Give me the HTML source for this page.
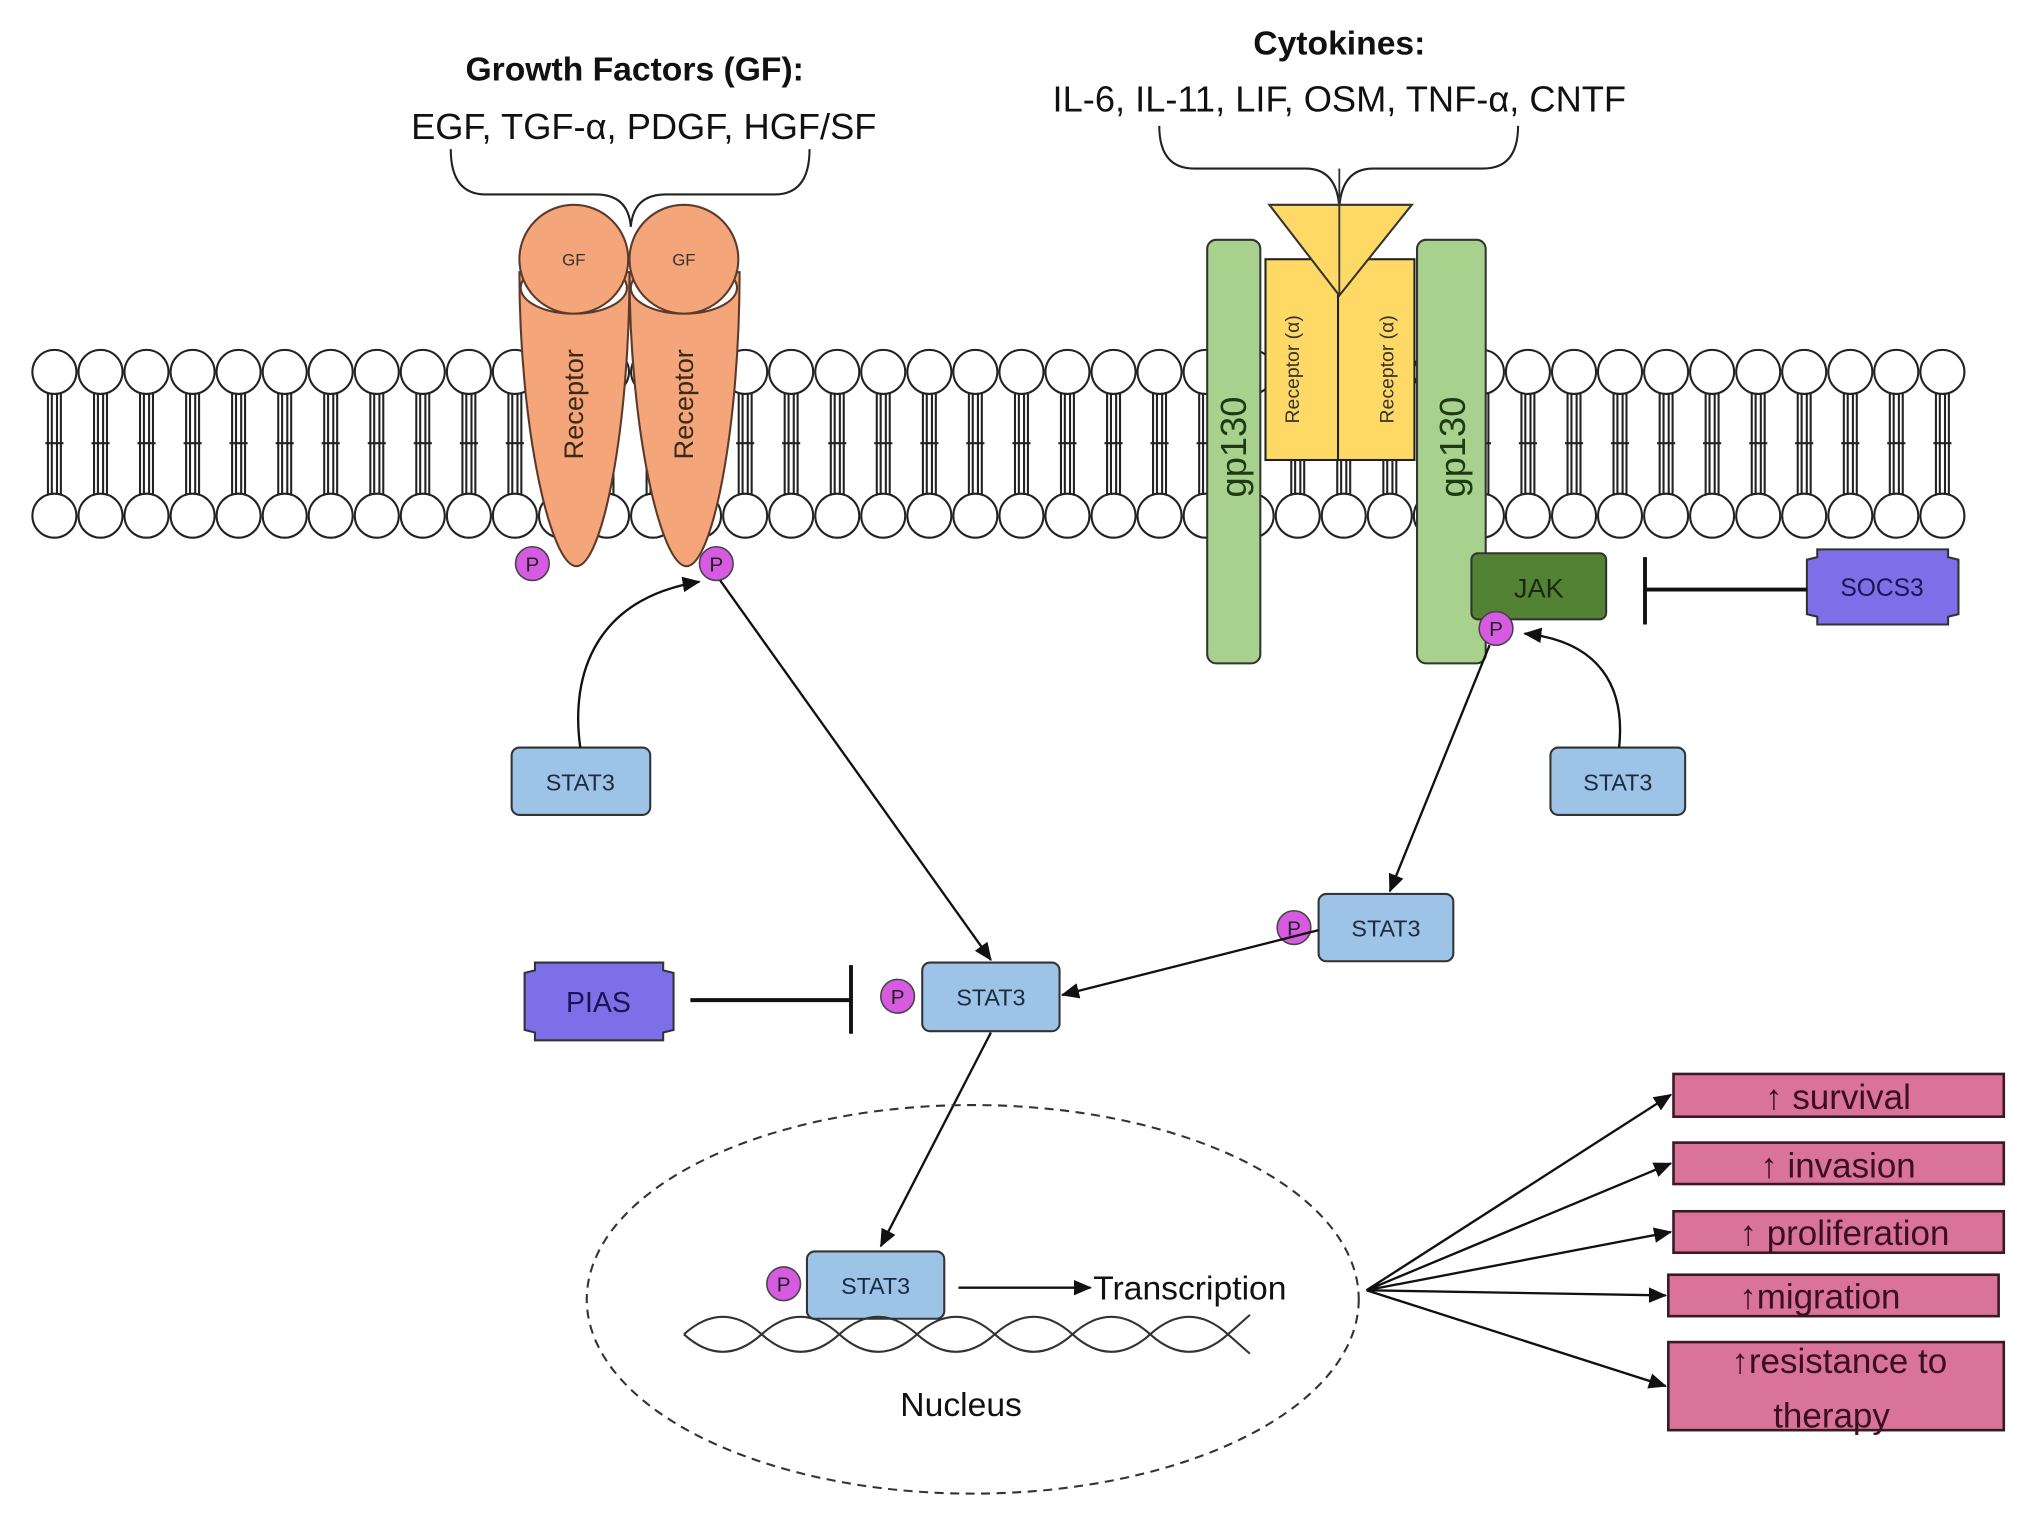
<!DOCTYPE html>
<html><head><meta charset="utf-8"><style>
html,body{margin:0;padding:0;background:#fff;}
svg{display:block;}
text{font-family:"Liberation Sans",sans-serif;}
</style></head><body>
<svg width="2031" height="1521" viewBox="0 0 1568 1174" xmlns="http://www.w3.org/2000/svg">
<defs>
<g id="lip" stroke="#222" stroke-width="1.6" fill="#fff">
<line x1="-5" y1="303" x2="-5" y2="382"/><line x1="-2" y1="303" x2="-2" y2="382"/>
<line x1="2" y1="303" x2="2" y2="382"/><line x1="5" y1="303" x2="5" y2="382"/>
<line x1="-7" y1="342" x2="7" y2="342"/>
<ellipse cx="0" cy="287" rx="17" ry="17"/><ellipse cx="0" cy="398" rx="17" ry="17"/>
</g>
<marker id="ar" markerWidth="10" markerHeight="10" refX="9" refY="5" orient="auto" markerUnits="userSpaceOnUse"><path d="M0,0 L10,5 L0,10 z" fill="#111"/></marker>
<marker id="ar2" markerWidth="14" markerHeight="14" refX="13" refY="7" orient="auto" markerUnits="userSpaceOnUse"><path d="M0,1 L14,7 L0,13 z" fill="#111"/></marker>
</defs>

<!-- titles -->
<text x="490" y="62" font-size="26" font-weight="bold" text-anchor="middle" fill="#111">Growth Factors (GF):</text>
<text x="497" y="107" font-size="28" text-anchor="middle" fill="#111">EGF, TGF-α, PDGF, HGF/SF</text>
<text x="1034" y="42" font-size="26" font-weight="bold" text-anchor="middle" fill="#111">Cytokines:</text>
<text x="1034" y="86" font-size="28" text-anchor="middle" fill="#111">IL-6, IL-11, LIF, OSM, TNF-α, CNTF</text>
<path d="M348,115 Q348,150 375,150 L460,150 Q485,150 487,175 Q489,150 514,150 L598,150 Q625,150 625,115" fill="none" stroke="#222" stroke-width="1.6"/>
<path d="M895,97 Q895,130 922,130 L1008,130 Q1032,130 1034,160 Q1036,130 1060,130 L1145,130 Q1172,130 1172,97" fill="none" stroke="#222" stroke-width="1.6"/>

<!-- membrane -->
<use href="#lip" x="42"/><use href="#lip" x="77.6"/><use href="#lip" x="113.1"/><use href="#lip" x="148.7"/><use href="#lip" x="184.2"/><use href="#lip" x="219.8"/><use href="#lip" x="255.3"/><use href="#lip" x="290.9"/><use href="#lip" x="326.4"/><use href="#lip" x="362"/><use href="#lip" x="397.5"/><use href="#lip" x="433.1"/><use href="#lip" x="468.6"/><use href="#lip" x="504.2"/><use href="#lip" x="539.7"/><use href="#lip" x="575.3"/><use href="#lip" x="610.8"/><use href="#lip" x="646.4"/><use href="#lip" x="681.9"/><use href="#lip" x="717.5"/><use href="#lip" x="753"/><use href="#lip" x="788.6"/><use href="#lip" x="824.1"/><use href="#lip" x="859.7"/><use href="#lip" x="895.2"/><use href="#lip" x="930.8"/><use href="#lip" x="966.3"/><use href="#lip" x="1001.9"/><use href="#lip" x="1037.4"/><use href="#lip" x="1073"/><use href="#lip" x="1108.5"/><use href="#lip" x="1144.1"/><use href="#lip" x="1179.6"/><use href="#lip" x="1215.2"/><use href="#lip" x="1250.7"/><use href="#lip" x="1286.3"/><use href="#lip" x="1321.8"/><use href="#lip" x="1357.4"/><use href="#lip" x="1392.9"/><use href="#lip" x="1428.5"/><use href="#lip" x="1464"/><use href="#lip" x="1499.6"/>

<!-- GF receptors -->
<g stroke="#5a3a2a" stroke-width="1.6" fill="#F4A57A">
<path d="M401,210 C401,330 425,437 445,437 C465,437 486,330 486,210 Z"/>
<path d="M486,210 C486,330 510,437 530,437 C550,437 571,330 571,210 Z"/>
<ellipse cx="443" cy="222" rx="41" ry="20" fill="#fff"/>
<ellipse cx="528" cy="222" rx="41" ry="20" fill="#fff"/>
<circle cx="443" cy="200" r="42"/>
<circle cx="528" cy="200" r="42"/>
</g>
<text x="443" y="205" font-size="13" text-anchor="middle" fill="#333">GF</text>
<text x="528" y="205" font-size="13" text-anchor="middle" fill="#333">GF</text>
<text transform="translate(450,312) rotate(-90)" font-size="21" text-anchor="middle" fill="#3a2a1a">Receptor</text>
<text transform="translate(535,312) rotate(-90)" font-size="21" text-anchor="middle" fill="#3a2a1a">Receptor</text>

<!-- cytokine receptor -->
<rect x="977" y="200" width="56" height="155" fill="#FFD966" stroke="#222" stroke-width="1.6"/>
<rect x="1033" y="200" width="59" height="155" fill="#FFD966" stroke="#222" stroke-width="1.6"/>
<path d="M980,158 L1090,158 L1034,228 Z" fill="#FFD966" stroke="#333" stroke-width="1.6"/>
<line x1="1034" y1="130" x2="1034" y2="228" stroke="#333" stroke-width="1.4"/>
<text transform="translate(1003,285) rotate(-90)" font-size="15" text-anchor="middle" fill="#333">Receptor (α)</text>
<text transform="translate(1076,285) rotate(-90)" font-size="15" text-anchor="middle" fill="#333">Receptor (α)</text>
<rect x="932" y="185" width="41" height="327" rx="7" fill="#A9D18E" stroke="#333" stroke-width="1.6"/>
<rect x="1094" y="185" width="53" height="327" rx="7" fill="#A9D18E" stroke="#333" stroke-width="1.6"/>
<text transform="translate(962,345) rotate(-90)" font-size="28" text-anchor="middle" fill="#1e3a14">gp130</text>
<text transform="translate(1131,345) rotate(-90)" font-size="28" text-anchor="middle" fill="#1e3a14">gp130</text>
<rect x="1136" y="427" width="104" height="51" rx="5" fill="#548235" stroke="#333" stroke-width="1.6"/>
<text x="1188" y="461" font-size="21" text-anchor="middle" fill="#1a2a10">JAK</text>
<path d="M1403,424 L1504,424 L1504,430 L1512,432 L1512,474 L1504,476 L1504,482 L1403,482 L1403,476 L1395,474 L1395,432 L1403,430 Z" fill="#7E6FE8" stroke="#333" stroke-width="1.6"/>
<text x="1453" y="460" font-size="19" text-anchor="middle" fill="#1a1550">SOCS3</text>
<line x1="1395" y1="455" x2="1270" y2="455" stroke="#111" stroke-width="3"/>
<line x1="1270" y1="430" x2="1270" y2="482" stroke="#111" stroke-width="3"/>

<!-- P circles -->
<g fill="#D65BE0" stroke="#444" stroke-width="1.2">
<circle cx="411" cy="435" r="13"/><circle cx="553" cy="435" r="13"/><circle cx="1155" cy="485" r="13"/>
<circle cx="999" cy="716" r="13"/><circle cx="693" cy="769" r="13"/><circle cx="605" cy="991" r="13"/>
</g>
<g font-size="16" text-anchor="middle" fill="#222">
<text x="411" y="441">P</text><text x="553" y="441">P</text><text x="1155" y="491">P</text>
<text x="999" y="722">P</text><text x="693" y="775">P</text><text x="605" y="997">P</text>
</g>

<!-- STAT3 boxes -->
<g fill="#9DC3E6" stroke="#333" stroke-width="1.6">
<rect x="395" y="577" width="107" height="52" rx="6"/>
<rect x="1197" y="577" width="104" height="52" rx="6"/>
<rect x="1018" y="690" width="104" height="52" rx="6"/>
<rect x="712" y="743" width="106" height="53" rx="6"/>
<rect x="623" y="966" width="106" height="52" rx="6"/>
</g>
<g font-size="18" text-anchor="middle" fill="#1a2a40">
<text x="448" y="610">STAT3</text><text x="1249" y="610">STAT3</text><text x="1070" y="723">STAT3</text>
<text x="765" y="776">STAT3</text><text x="676" y="999">STAT3</text>
</g>

<!-- PIAS -->
<path d="M413,743 L512,743 L512,749 L520,751 L520,795 L512,797 L512,803 L413,803 L413,797 L405,795 L405,751 L413,749 Z" fill="#7E6FE8" stroke="#333" stroke-width="1.6"/>
<text x="462" y="781" font-size="22" text-anchor="middle" fill="#1a1550">PIAS</text>
<line x1="533" y1="772" x2="657" y2="772" stroke="#111" stroke-width="3"/>
<line x1="657" y1="745" x2="657" y2="798" stroke="#111" stroke-width="3"/>

<!-- arrows -->
<g stroke="#111" stroke-width="1.8" fill="none">
<path d="M448,577 C440,520 460,462 540,449" marker-end="url(#ar2)"/>
<line x1="556" y1="448" x2="765" y2="741" marker-end="url(#ar2)"/>
<path d="M1250,577 C1255,530 1235,495 1177,489" marker-end="url(#ar2)"/>
<line x1="1150" y1="498" x2="1073" y2="688" marker-end="url(#ar2)"/>
<line x1="1018" y1="718" x2="820" y2="768" marker-end="url(#ar2)"/>
<line x1="765" y1="797" x2="680" y2="962" marker-end="url(#ar2)"/>
<line x1="740" y1="994" x2="842" y2="994" marker-end="url(#ar2)"/>
<line x1="1055" y1="996" x2="1290" y2="845" marker-end="url(#ar2)"/>
<line x1="1055" y1="996" x2="1290" y2="898" marker-end="url(#ar2)"/>
<line x1="1055" y1="996" x2="1290" y2="951" marker-end="url(#ar2)"/>
<line x1="1055" y1="996" x2="1286" y2="1000" marker-end="url(#ar2)"/>
<line x1="1055" y1="996" x2="1286" y2="1070" marker-end="url(#ar2)"/>
</g>

<!-- nucleus -->
<ellipse cx="751" cy="1003" rx="298" ry="150" fill="none" stroke="#333" stroke-width="1.6" stroke-dasharray="7,5"/>
<g stroke="#333" stroke-width="1.6" fill="none">
<path d="M528,1030 C548,1012 568,1012 588,1030 S628,1048 648,1030 S688,1012 708,1030 S748,1048 768,1030 S808,1012 828,1030 S868,1048 888,1030 S928,1012 948,1030 L965,1045"/>
<path d="M528,1030 C548,1048 568,1048 588,1030 S628,1012 648,1030 S688,1048 708,1030 S748,1012 768,1030 S808,1048 828,1030 S868,1012 888,1030 S928,1048 948,1030 L965,1015"/>
</g>
<text x="844" y="1003" font-size="26" fill="#111">Transcription</text>
<text x="742" y="1093" font-size="26" text-anchor="middle" fill="#111">Nucleus</text>

<!-- outcomes -->
<g fill="#D9739A" stroke="#3a1a22" stroke-width="2">
<rect x="1292" y="829" width="255" height="33"/>
<rect x="1292" y="882" width="255" height="32"/>
<rect x="1292" y="935" width="255" height="32"/>
<rect x="1288" y="984" width="255" height="32"/>
<rect x="1288" y="1036" width="259" height="68"/>
</g>
<g font-size="27" text-anchor="middle" fill="#3a1020">
<text x="1419" y="856">↑ survival</text>
<text x="1419" y="909">↑ invasion</text>
<text x="1424" y="961">↑ proliferation</text>
<text x="1405" y="1010">↑migration</text>
<text x="1420" y="1060">↑resistance to</text>
<text x="1414" y="1102">therapy</text>
</g>
</svg>
</body></html>
